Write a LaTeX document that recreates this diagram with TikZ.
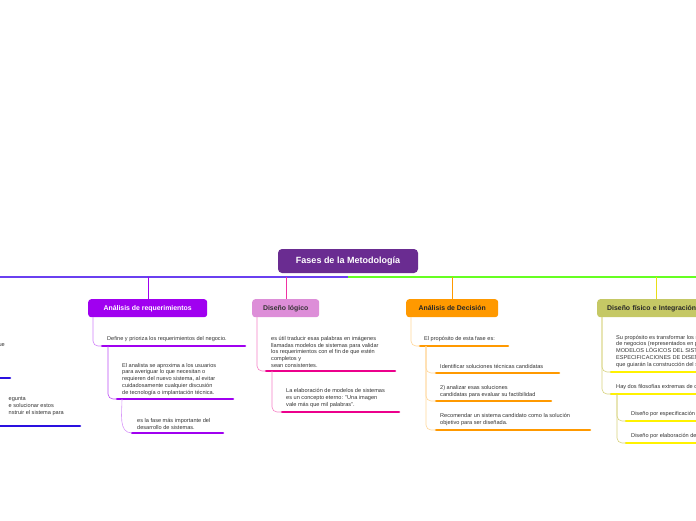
\documentclass[tikz,border=0pt]{standalone}
\usepackage{fontspec}
\setmainfont{Liberation Sans}
\begin{document}
\begin{tikzpicture}[x=1pt,y=-1pt,
  txt/.style={font=\fontsize{5.6}{6.9}\selectfont,align=left,anchor=south west,inner sep=0pt,text=black!80},
  br/.style={rounded corners=3pt,minimum height=18pt,font=\fontsize{6.9}{8}\selectfont\bfseries,inner sep=0pt,anchor=north west},
  bar/.style={line width=2.6pt,line cap=round},
  con/.style={line width=0.6pt,rounded corners=5pt}]
\useasboundingbox (0,0) rectangle (696,520);
\clip (0,0) rectangle (696,520);
\definecolor{root}{HTML}{6A2C91}
\definecolor{req}{HTML}{A000F0}
\definecolor{logi}{HTML}{DD8ED8}
\definecolor{dec}{HTML}{FF9900}
\definecolor{fis}{HTML}{C5C865}
\definecolor{blu}{HTML}{2A10E0}
\definecolor{mainl}{HTML}{6A40F0}
\definecolor{grn}{HTML}{66FF22}
% main line
\draw[line width=1.3pt,mainl] (0,277) -- (348,277);
\draw[line width=1.3pt,grn] (348,277) -- (696,277);
\node[fill=root,text=white,rounded corners=4pt,minimum width=140pt,minimum height=24pt,font=\fontsize{9}{10}\selectfont\bfseries,inner sep=0pt] (root) at (348,261) {Fases de la Metodología};
% branch nodes
\node[br,fill=req,text=white,minimum width=119pt] (a) at (88,299) {Análisis de requerimientos};
\node[br,fill=logi,text=black!80,minimum width=67pt] (b) at (252,299) {Diseño lógico};
\node[br,fill=dec,text=black!85,minimum width=92pt] (c) at (406,299) {Análisis de Decisión};
\node[br,fill=fis,text=black!85,minimum width=130pt,text width=124pt,align=left] (d) at (597,299) {\hspace*{7pt}Diseño físico e Integración};
\draw[con,req] (148,277) -- (a.north -| 148,0);
\draw[con,magenta!80] (286,277) -- (b.north -| 286,0);
\draw[con,dec] (452,277) -- (c.north -| 452,0);
\draw[con,yellow!90!black] (656,277) -- (d.north -| 656,0);
% left fragments
\node[txt,anchor=south east] (l1) at (5,348) {que};
\draw[bar,blu] (0,378) -- (10,378);
\node[txt,anchor=south east,align=left] (l2) at (64,416) {egunta\\e solucionar estos\\nstruir el sistema para};
\draw[bar,blu] (0,426) -- (80,426);
% Analisis de requerimientos
\coordinate (a1) at (102,346);
\node[txt] (a1t) at (107,342) {Define y prioriza los requerimientos del negocio.};
\draw[bar,req] (102,346) -- (245,346);
\draw[con,req!50] (93,317) |- (a1);
\node[txt] (a2t) at (122,396) {El analista se aproxima a los usuarios\\ para averiguar lo que necesitan o\\ requieren del nuevo sistema, al evitar\\ cuidadosamente cualquier discusión\\ de tecnología o implantación técnica.};
\draw[bar,req] (117,399) -- (233,399);
\draw[con,req!70] (108,346) |- (117,399);
\node[txt] (a3t) at (137,430) {es la fase más importante del\\ desarrollo de sistemas.};
\draw[bar,req] (132,433) -- (223,433);
\draw[con,req!40] (122,399) to[out=-90,in=180] (132,433);
% Diseño logico
\node[txt] (b1t) at (271,368) {es útil traducir esas palabras en imágenes\\llamadas modelos de sistemas para validar\\ los requerimientos con el fin de que estén\\ completos y\\sean consistentes.};
\draw[bar,magenta] (266,371) -- (395,371);
\draw[con,magenta!50] (257,317) |- (266,371);
\node[txt] (b2t) at (286,408) {La elaboración de modelos de sistemas\\ es un concepto eterno: "Una imagen\\vale más que mil palabras".};
\draw[bar,magenta] (282,412) -- (399,412);
\draw[con,magenta!50] (272,371) |- (282,412);
% Decision
\node[txt] (c1t) at (424,342) {El propósito de esta fase es:};
\draw[bar,dec] (420,346) -- (508,346);
\draw[con,dec!40] (411,317) |- (420,346);
\node[txt] (c2t) at (440,369) {Identificar soluciones técnicas candidatas};
\draw[bar,dec] (436,373) -- (559,373);
\node[txt] (c3t) at (440,398) {2) analizar esas soluciones\\candidatas para evaluar su factibilidad};
\draw[bar,dec] (436,401) -- (551,401);
\node[txt] (c4t) at (440,426) {Recomendar un sistema candidato como la solución\\objetivo para ser diseñada.};
\draw[bar,dec] (436,430) -- (590,430);
\draw[con,dec!40] (426,346) |- (436,373);
\draw[con,dec!40] (426,346) |- (436,401);
\draw[con,dec!40] (426,346) |- (436,430);
% Diseño fisico
\node[txt] (d1t) at (616,368) {Su propósito es transformar los requerimientos\\ de negocios (representados en parte por los\\ MODELOS LÓGICOS DEL SISTEMA) en\\ ESPECIFICACIONES DE DISEÑO FÍSICO\\ que guiarán la construcción del sistema.};
\draw[bar,yellow] (611,372) -- (700,372);
\node[txt] (d2t) at (616,390) {Hay dos filosofías extremas de diseño};
\draw[bar,yellow] (611,394) -- (700,394);
\draw[con,yellow!70!black!60] (602,317) |- (611,372);
\draw[con,yellow!70!black!60] (602,317) |- (611,394);
\node[txt] (d3t) at (631,417) {Diseño por especificación};
\draw[bar,yellow] (626,421) -- (700,421);
\node[txt] (d4t) at (631,439) {Diseño por elaboración de prototipos};
\draw[bar,yellow] (626,443) -- (700,443);
\draw[con,yellow!70!black!60] (617,394) |- (626,421);
\draw[con,yellow!70!black!60] (617,394) |- (626,443);
\end{tikzpicture}
\end{document}
